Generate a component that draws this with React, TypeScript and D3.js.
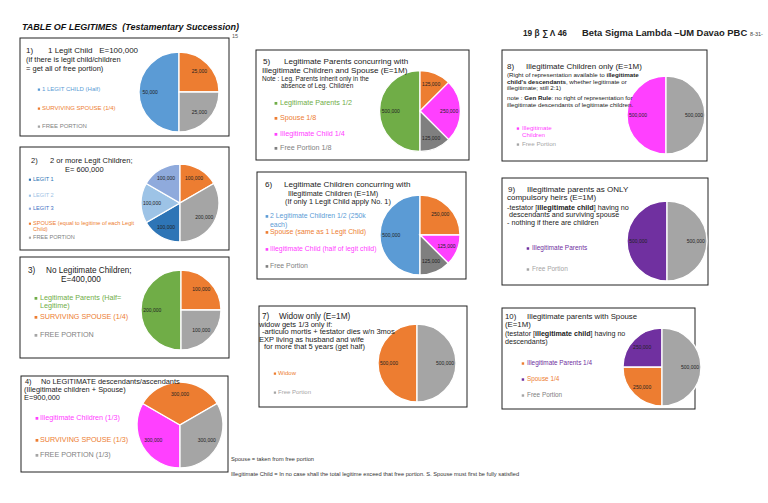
import React from "react";
import * as d3 from "d3";

const FONT = "'Liberation Sans', Arial, Helvetica, sans-serif";

// ---------------- DATA ----------------
const p1Categories = ["1 LEGIT CHILD (Half)", "SURVIVING SPOUSE (1/4)", "FREE PORTION"];
const p1Values = [50000, 25000, 25000];
const p2Categories = ["LEGIT 1", "LEGIT 2", "LEGIT 3", "SPOUSE (equal to legitime of each Legit\nChild)", "FREE PORTION"];
const p2Values = [100000, 100000, 100000, 100000, 200000];
const p3Categories = ["Legitimate Parents (Half=\nLegitime)", "SURVIVING SPOUSE (1/4)", "FREE PORTION"];
const p3Values = [200000, 100000, 100000];
const p4Categories = ["Illegitimate Children (1/3)", "SURVIVING SPOUSE (1/3)", "FREE PORTION (1/3)"];
const p4Values = [300000, 300000, 300000];
const p5Categories = ["Legitimate Parents 1/2", "Spouse 1/8", "Illegitimate Child 1/4", "Free Portion 1/8"];
const p5Values = [500000, 125000, 250000, 125000];
const p6Categories = ["2 Legitimate Children 1/2 (250k\neach)", "Spouse (same as 1 Legit Child)", "Illegitimate Child (half of legit child)", "Free Portion"];
const p6Values = [500000, 250000, 125000, 125000];
const p7Categories = ["Widow", "Free Portion"];
const p7Values = [500000, 500000];
const p8Categories = ["Illegitimate\nChildren", "Free Portion"];
const p8Values = [500000, 500000];
const p9Categories = ["Illegitimate Parents", "Free Portion"];
const p9Values = [500000, 500000];
const p10Categories = ["Illegitimate Parents 1/4", "Spouse 1/4", "Free Portion"];
const p10Values = [250000, 250000, 500000];

const footerLines = [
  "Spouse =  taken from free portion",
  "Illegitimate Child = In no case shall the total legitime exceed that free portion. S. Spouse must first be fully satisfied",
];

// ---------------- STYLE ----------------
const C = {
  blue: "#5B9BD5",
  orange: "#ED7D31",
  grey: "#A5A5A5",
  dgrey: "#7F7F7F",
  green: "#70AD47",
  magenta: "#FF40FF",
  purple: "#7030A0",
  legit1: "#2E75B6",
  legit2: "#9DC3E6",
  legit3: "#8FAADC",
};

type Seg = { t: string; b?: boolean; x?: number };
type Line = { x: number; y: number; s: number; segs: Seg[] };
const L = (x: number, y: number, s: number, ...segs: (string | Seg)[]): Line => ({
  x, y, s, segs: segs.map((g) => (typeof g === "string" ? { t: g } : g)),
});
const B = (t: string): Seg => ({ t, b: true });
const AT = (x: number, t: string): Seg => ({ t, x });

type Panel = {
  box: [number, number, number, number];
  pie: { cx: number; cy: number; r: number };
  values: number[];
  cats: string[];
  colors: string[];
  textColors: string[];
  lines: Line[];
  legend: { mx: number; tx: number; ys: number[]; s: number; lh: number };
};

const panels: Panel[] = [
  {
    box: [20, 38, 209, 98],
    pie: { cx: 179, cy: 92, r: 40 },
    values: p1Values, cats: p1Categories,
    colors: [C.blue, C.orange, C.grey],
    textColors: [C.blue, C.orange, C.dgrey],
    lines: [
      L(26, 53, 8, "1)", AT(48, "1 Legit Child   E=100,000")),
      L(26, 62, 7.5, "(if there is legit child/children"),
      L(26, 71, 7.5, "= get all of free portion)"),
    ],
    legend: { mx: 39, tx: 42, ys: [91, 110, 128], s: 6, lh: 7 },
  },
  {
    box: [20, 147, 209, 103],
    pie: { cx: 180, cy: 203, r: 39 },
    values: p2Values, cats: p2Categories,
    colors: [C.legit1, C.legit2, C.legit3, C.orange, C.grey],
    textColors: [C.legit1, C.legit2, "#4472C4", C.orange, C.dgrey],
    lines: [
      L(31, 163, 7.5, "2)", AT(50, "2 or more Legit Children;")),
      L(65, 172, 7.5, "E= 600,000"),
    ],
    legend: { mx: 30, tx: 33, ys: [181, 197, 210, 225, 239], s: 5.6, lh: 6 },
  },
  {
    box: [20, 257, 209, 101],
    pie: { cx: 181, cy: 310, r: 40 },
    values: p3Values, cats: p3Categories,
    colors: [C.green, C.orange, C.grey],
    textColors: [C.green, C.orange, C.dgrey],
    lines: [
      L(28, 273, 8.2, "3)", AT(46, "No Legitimate Children;")),
      L(61, 282, 8.2, "E=400,000"),
    ],
    legend: { mx: 36, tx: 40, ys: [300, 319, 337], s: 7.2, lh: 8 },
  },
  {
    box: [21, 376, 207, 96],
    pie: { cx: 180, cy: 425, r: 43 },
    values: p4Values, cats: p4Categories,
    colors: [C.magenta, C.orange, C.grey],
    textColors: [C.magenta, C.orange, C.dgrey],
    lines: [
      L(25, 384, 7.4, "4)", AT(41, "No LEGITIMATE descendants/ascendants")),
      L(24, 392, 7.4, "(Illegitimate children + Spouse)"),
      L(24, 400, 7.4, "E=900,000"),
    ],
    legend: { mx: 37, tx: 40, ys: [420, 442, 457], s: 7.2, lh: 7 },
  },
  {
    box: [256, 50, 213, 110],
    pie: { cx: 420, cy: 111, r: 40.5 },
    values: p5Values, cats: p5Categories,
    colors: [C.green, C.orange, C.magenta, C.dgrey],
    textColors: [C.green, C.orange, C.magenta, C.dgrey],
    lines: [
      L(263, 63.5, 8.1, "5)", AT(284, "Legitimate Parents concurring with")),
      L(262, 72.5, 8.1, "Illegitimate Children and Spouse (E=1M)"),
      L(262, 80.5, 6.5, "Note : Leg. Parents inherit only in the"),
      L(281, 88, 6.5, "absence of Leg. Children"),
    ],
    legend: { mx: 276, tx: 280, ys: [105, 120, 136, 150], s: 7.2, lh: 7 },
  },
  {
    box: [257, 172, 209, 107],
    pie: { cx: 420, cy: 235, r: 40 },
    values: p6Values, cats: p6Categories,
    colors: [C.blue, C.orange, C.magenta, C.dgrey],
    textColors: [C.blue, C.orange, C.magenta, C.dgrey],
    lines: [
      L(265, 187, 8.1, "6)", AT(284, "Legitimate Children concurring with")),
      L(288, 196, 7.3, "Illegitimate Children (E=1M)"),
      L(285, 204, 7.3, "(If only 1 Legit Child apply No. 1)"),
    ],
    legend: { mx: 267, tx: 270, ys: [218, 234, 251, 268], s: 6.9, lh: 9 },
  },
  {
    box: [259, 306, 208, 101],
    pie: { cx: 417, cy: 363, r: 39 },
    values: p7Values, cats: p7Categories,
    colors: [C.orange, C.grey],
    textColors: [C.orange, C.grey],
    lines: [
      L(262, 318.5, 8.2, "7)", AT(279, "Widow only (E=1M)")),
      L(259, 326.5, 7.5, "widow gets 1/3 only if:"),
      L(262, 334, 7.5, "-articulo mortis + testator dies w/n 3mos"),
      L(259, 341.5, 7.5, "EXP living as husband and wife"),
      L(264, 349, 7.5, "for more that 5 years (get half)"),
    ],
    legend: { mx: 275, tx: 278, ys: [375, 394], s: 6, lh: 7 },
  },
  {
    box: [502, 50, 205, 111],
    pie: { cx: 666, cy: 115, r: 39 },
    values: p8Values, cats: p8Categories,
    colors: [C.magenta, C.grey],
    textColors: [C.magenta, C.grey],
    lines: [
      L(507, 69, 8, "8)", AT(526, "Illegitimate Children only (E=1M)")),
      L(507, 77, 6.2, "(Right of representation available to ", B("illegitimate")),
      L(507, 83.5, 6.2, B("child's descendants"), ", whether legitimate or"),
      L(507, 90, 6.2, "illegitimate; still 2:1)"),
      L(507, 100, 6.2, "note : ", B("Gen Rule"), ": no right of representation for"),
      L(507, 106.5, 6.2, "illegitimate descendants of legitimate children."),
    ],
    legend: { mx: 518, tx: 522, ys: [130, 146], s: 6.2, lh: 6.8 },
  },
  {
    box: [502, 178, 206, 107],
    pie: { cx: 667, cy: 241, r: 40 },
    values: p9Values, cats: p9Categories,
    colors: [C.purple, C.grey],
    textColors: [C.purple, C.grey],
    lines: [
      L(508, 191.5, 8, "9)", AT(527, "Illegitimate parents as ONLY")),
      L(507, 200, 8, "compulsory heirs (E=1M)"),
      L(507, 209.5, 7.2, "-testator [", B("illegitimate child"), "] having no"),
      L(509, 217, 7.2, "descendants and surviving spouse"),
      L(507, 225, 7.2, "- nothing if there are children"),
    ],
    legend: { mx: 528, tx: 532, ys: [250, 271], s: 6.5, lh: 7 },
  },
  {
    box: [502, 308, 193, 101],
    pie: { cx: 662, cy: 367, r: 39 },
    values: p10Values, cats: p10Categories,
    colors: [C.orange, C.purple, C.grey],
    textColors: [C.purple, C.orange, C.dgrey],
    lines: [
      L(505, 319, 7.8, "10)", AT(527, "Illegitimate parents with Spouse")),
      L(505, 327, 7.8, "(E=1M)"),
      L(505, 336, 7.1, "(testator [", B("illegitimate child"), "] having no"),
      L(505, 343.5, 7.1, "descendants)"),
    ],
    legend: { mx: 523, tx: 527, ys: [365, 381, 397], s: 6.4, lh: 7 },
  },
];

const fmt = d3.format(",");

function PieChart({ p }: { p: Panel }) {
  const { cx, cy, r } = p.pie;
  const arcs = d3.pie<number>().sort(null).startAngle(Math.PI).endAngle(3 * Math.PI)(p.values);
  const arc = d3.arc<d3.PieArcDatum<number>>().innerRadius(0).outerRadius(r);
  const lr = r * 0.72;
  const lab = d3.arc<d3.PieArcDatum<number>>().innerRadius(lr).outerRadius(lr);
  return (
    <g transform={`translate(${cx},${cy})`}>
      {arcs.map((a, i) => (
        <path key={i} d={arc(a) || ""} fill={p.colors[i]} stroke="#fff" strokeWidth={1.3} />
      ))}
      {arcs.map((a, i) => {
        const [x, y] = lab.centroid(a);
        return (
          <text key={"l" + i} x={x} y={y} dy="0.35em" textAnchor="middle" fontSize={5} fill="#222">
            {fmt(a.data)}
          </text>
        );
      })}
    </g>
  );
}

function PanelView({ p }: { p: Panel }) {
  const [bx, by, bw, bh] = p.box;
  return (
    <g>
      <rect x={bx} y={by} width={bw} height={bh} fill="#fff" stroke="#222" strokeWidth={1} />
      <PieChart p={p} />
      {p.lines.map((ln, i) => (
        <text key={i} x={ln.x} y={ln.y} fontSize={ln.s} fill="#222" xmlSpace="preserve" style={{ whiteSpace: "pre" }}>
          {ln.segs.map((g, j) => (
            <tspan key={j} x={g.x} fontWeight={g.b ? "bold" : "normal"}>{g.t}</tspan>
          ))}
        </text>
      ))}
      {p.cats.map((c, i) => {
        const y = p.legend.ys[i];
        const parts = c.split("\n");
        const s = p.legend.s;
        return (
          <g key={"lg" + i}>
            <rect x={p.legend.mx - s * 0.2} y={y - s * 0.42} width={s * 0.38} height={s * 0.38} fill={p.colors[i]} />
            {parts.map((t, k) => (
              <text key={k} x={p.legend.tx} y={y + k * p.legend.lh} fontSize={s} fill={p.textColors[i]}>
                {t}
              </text>
            ))}
          </g>
        );
      })}
    </g>
  );
}

export default function App() {
  return (
    <svg
      width={768}
      height={503}
      viewBox="0 0 768 503"
      style={{ position: "absolute", left: 0, top: 0, background: "#fff", fontFamily: FONT }}
    >
      <rect width={768} height={503} fill="#fff" />
      <text x={22} y={30} fontSize={9} fontWeight="bold" fontStyle="italic" fill="#111" xmlSpace="preserve" style={{ whiteSpace: "pre" }}>
        TABLE OF LEGITIMES  (Testamentary Succession)
      </text>
      <text x={232} y={38} fontSize={5.5} fill="#555">15</text>
      <text x={523} y={36} fontSize={8.3} fontWeight="bold" fill="#222">19 β ∑ Λ 46</text>
      <text x={582} y={36} fontSize={9.4} fontWeight="bold" fill="#222">Beta Sigma Lambda –UM Davao PBC</text>
      <text x={750} y={36} fontSize={5.5} fill="#444">8-31-</text>
      {panels.map((p, i) => (
        <PanelView key={i} p={p} />
      ))}
      {footerLines.map((t, i) => (
        <text key={i} x={231} y={461 + i * 15} fontSize={5.7} fill="#333">
          {t}
        </text>
      ))}
    </svg>
  );
}
